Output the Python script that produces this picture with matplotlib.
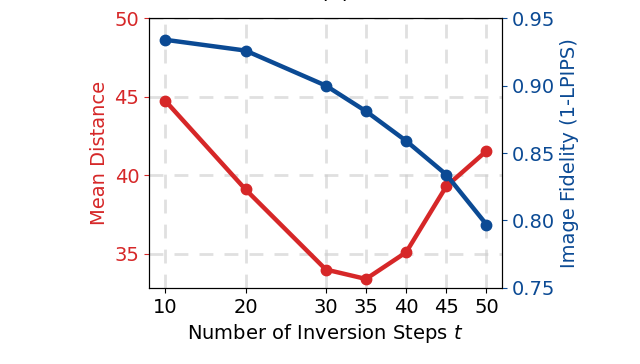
import matplotlib.pyplot as plt

steps = [10, 20, 30, 35, 40, 45, 50]
mean_dist = [44.75, 39.1, 34.0, 33.4, 35.1, 39.3, 41.55]
fidelity = [0.934, 0.926, 0.900, 0.881, 0.859, 0.834, 0.797]

red = '#d62728'
blue = '#0b4a94'

fig, ax = plt.subplots(figsize=(6.4, 3.64), dpi=100)
fig.subplots_adjust(left=0.233, right=0.784, top=0.95, bottom=0.209)

ax.plot(steps, mean_dist, color=red, lw=3.2, marker='o', ms=7.5, zorder=3)
ax.set_xlim(8.0, 51.9)
ax.set_ylim(32.83, 50)
ax.set_yticks([35, 40, 45, 50])
ax.set_xticks(steps)
ax.tick_params(axis='both', labelsize=14)
ax.tick_params(axis='y', colors=red)
ax.set_ylabel('Mean Distance', color=red, fontsize=14)
ax.set_xlabel('Number of Inversion Steps $t$', fontsize=14)
ax.grid(True, ls='--', lw=2, color='#cccccc', alpha=0.6, dashes=(5, 4))

ax2 = ax.twinx()
ax2.plot(steps, fidelity, color=blue, lw=3.2, marker='o', ms=7.5, zorder=3)
ax2.set_ylim(0.75, 0.95)
ax2.set_yticks([0.75, 0.80, 0.85, 0.90, 0.95])
ax2.tick_params(axis='y', colors=blue, labelsize=14)
ax2.set_ylabel('Image Fidelity (1-LPIPS)', color=blue, fontsize=14)
for sp in ax2.spines.values():
    sp.set_color('black')

fig.text(0.523, 0.994, '(b)', fontsize=16, ha='center', va='bottom')

plt.savefig('out.png')
